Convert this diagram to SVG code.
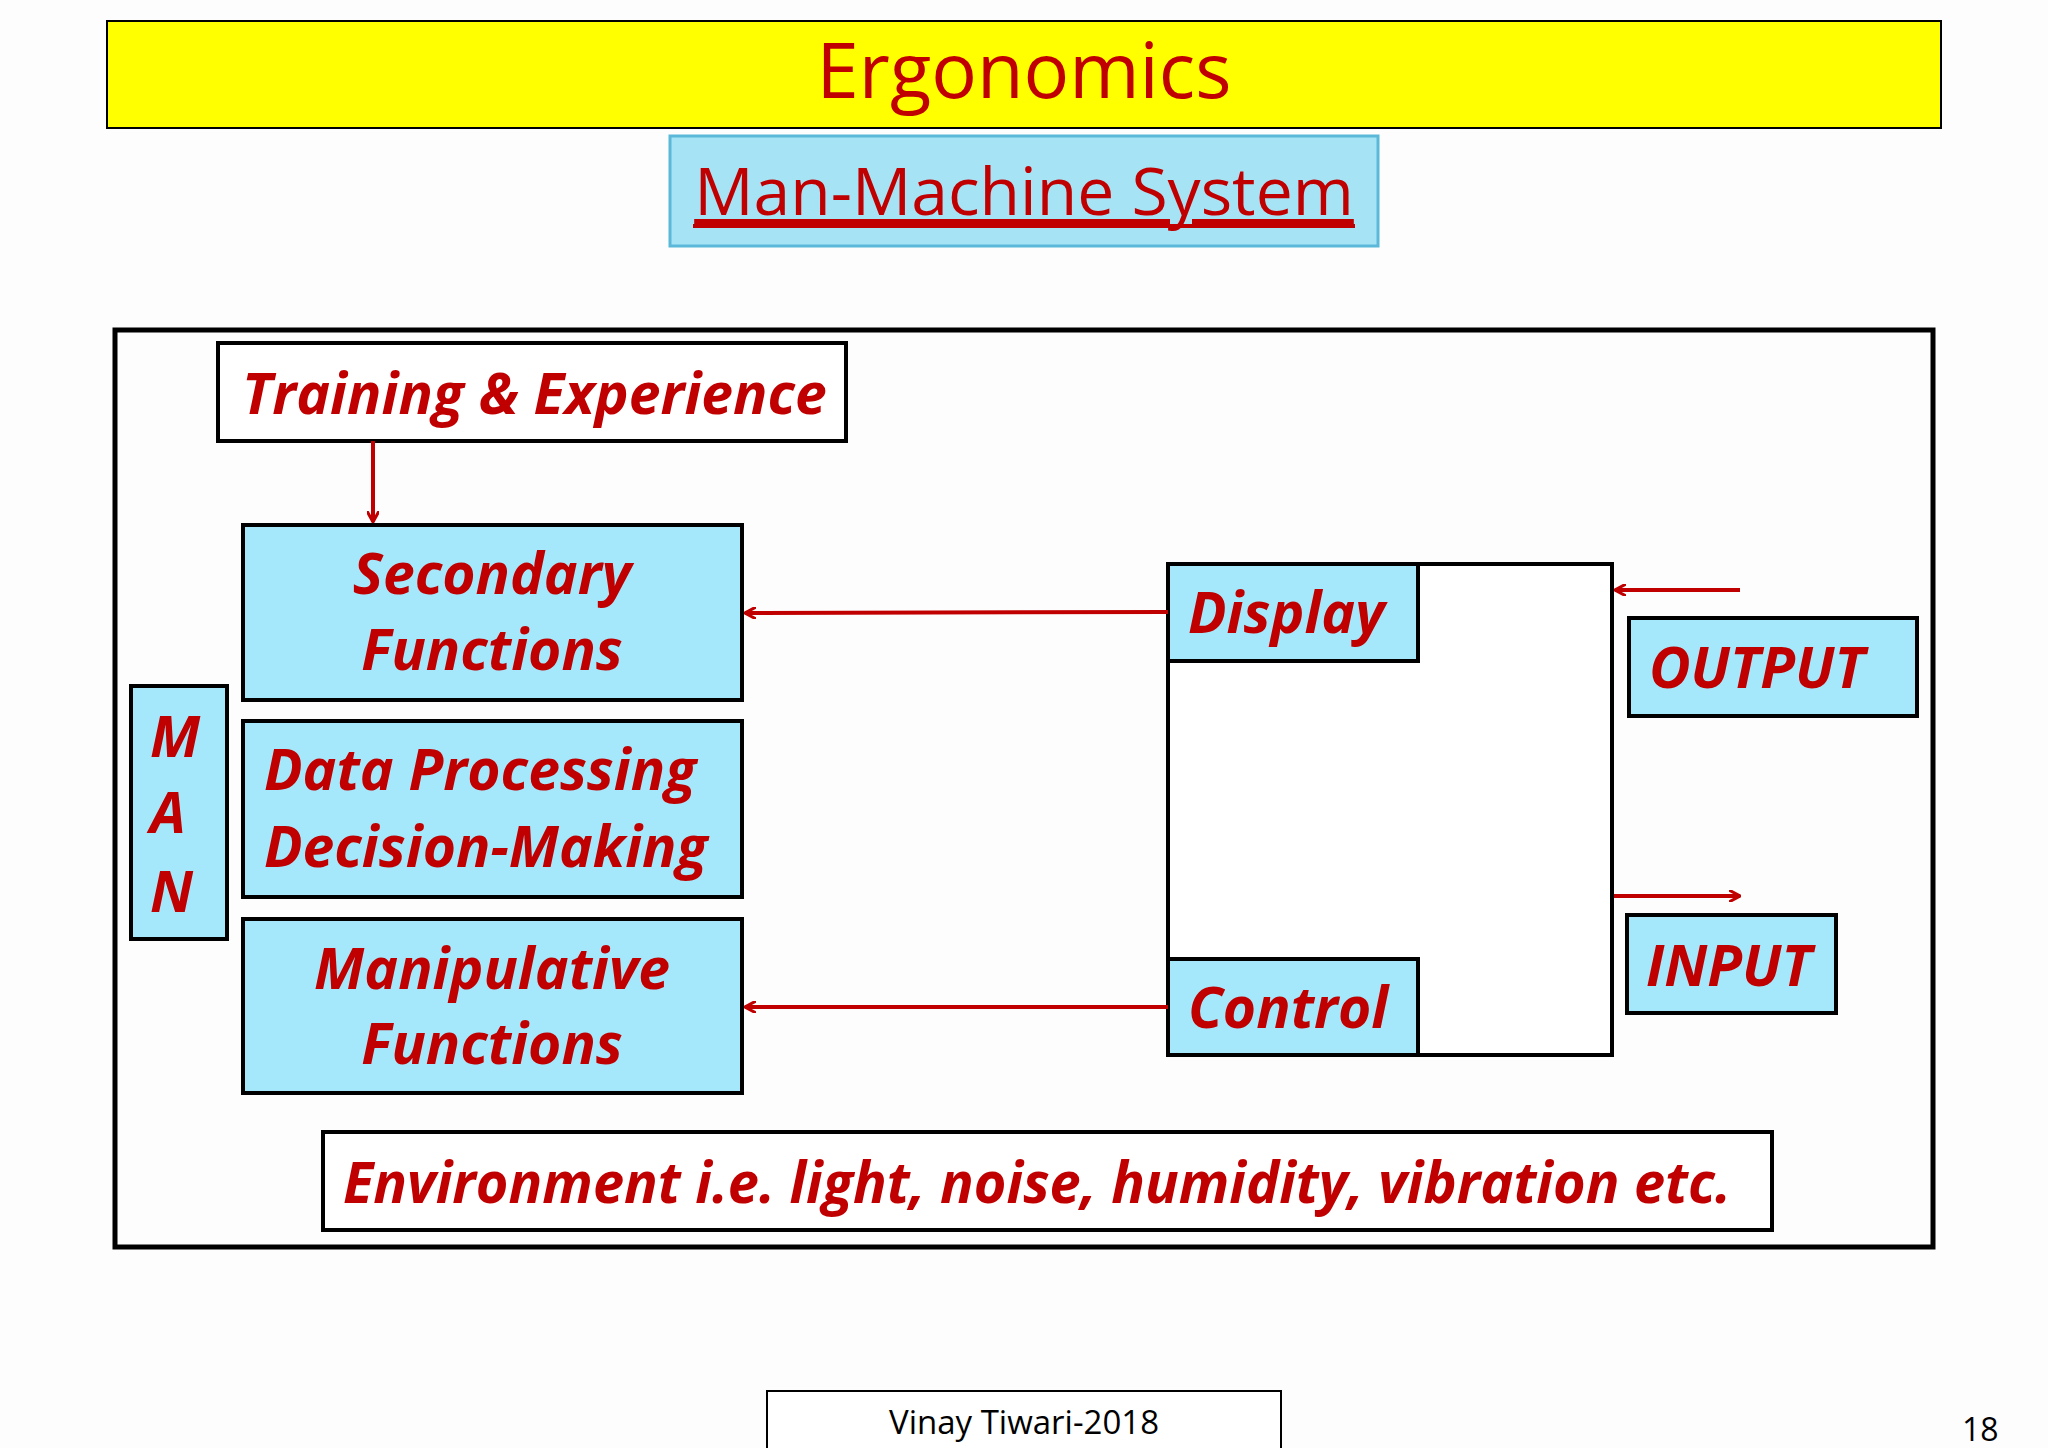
<svg xmlns="http://www.w3.org/2000/svg" width="2048" height="1448" viewBox="0 0 2048 1448">
<style>
.b{fill:#a6e8fb;stroke:#000;stroke-width:4}
.w{fill:#fff;stroke:#000;stroke-width:4}
.t{font-family:"Open Sans","Liberation Sans",sans-serif;font-weight:bold;font-style:italic;fill:#c00000;font-size:57px}
.c{text-anchor:middle}
.l{stroke:#c00000;stroke-width:4;fill:none;marker-end:url(#a)}
</style>
<defs><marker id="a" markerWidth="12" markerHeight="12" refX="11" refY="6" orient="auto" markerUnits="userSpaceOnUse" viewBox="0 0 12 12"><path d="M0,0 L11,6 L0,12" fill="none" stroke="#c00000" stroke-width="3"/></marker></defs>
<rect width="2048" height="1448" fill="#fdfdfd"/>
<g id="title"><rect x="107" y="21" width="1834" height="107" fill="#ffff00" stroke="#000" stroke-width="2"/><text x="1024" y="98" text-anchor="middle" font-family="Open Sans,Liberation Sans,sans-serif" font-size="76" fill="#c00000">Ergonomics</text></g>
<g id="subtitle"><rect x="670" y="136" width="708" height="110" fill="#a6e3f5" stroke="#5bb8d8" stroke-width="3"/><text x="1024" y="215" text-anchor="middle" font-family="Open Sans,Liberation Sans,sans-serif" font-size="66" fill="#c00000" text-decoration="underline">Man-Machine System</text><line x1="693" y1="226" x2="1355" y2="226" stroke="#c00000" stroke-width="4"/></g>
<rect x="115" y="330" width="1818" height="917" fill="none" stroke="#000" stroke-width="5"/>
<g id="training"><rect class="w" x="218" y="343" width="628" height="98"/><text class="t" x="242" y="414">Training &amp; Experience</text></g>
<g id="secondary"><rect class="b" x="243" y="525" width="499" height="175"/><text class="t c" x="492" y="594">Secondary</text><text class="t c" x="492" y="670">Functions</text></g>
<g id="data"><rect class="b" x="243" y="721" width="499" height="176"/><text class="t" x="264" y="790">Data Processing</text><text class="t" x="264" y="867">Decision-Making</text></g>
<g id="manip"><rect class="b" x="243" y="919" width="499" height="174"/><text class="t c" x="492" y="989">Manipulative</text><text class="t c" x="492" y="1064">Functions</text></g>
<g id="man"><rect class="b" x="131" y="686" width="96" height="253"/><text class="t" x="150" y="757">M</text><text class="t" x="150" y="833">A</text><text class="t" x="150" y="912">N</text></g>
<g id="machine"><rect class="w" x="1168" y="564" width="444" height="491"/></g>
<g id="display"><rect class="b" x="1168" y="564" width="250" height="97"/><text class="t" x="1188" y="633">Display</text></g>
<g id="control"><rect class="b" x="1168" y="959" width="250" height="96"/><text class="t" x="1188" y="1028">Control</text></g>
<g id="output"><rect class="b" x="1629" y="618" width="288" height="98"/><text class="t" x="1649" y="688">OUTPUT</text></g>
<g id="input"><rect class="b" x="1627" y="915" width="209" height="98"/><text class="t" x="1646" y="986">INPUT</text></g>
<g id="env"><rect class="w" x="323" y="1132" width="1449" height="98"/><text class="t" x="343" y="1203" textLength="1388" lengthAdjust="spacingAndGlyphs">Environment i.e. light, noise, humidity, vibration etc.</text></g>
<g id="connectors">
<line class="l" x1="373" y1="441" x2="373" y2="522"/>
<line class="l" x1="1168" y1="612" x2="745" y2="613"/>
<line class="l" x1="1168" y1="1007" x2="745" y2="1007"/>
<line class="l" x1="1740" y1="590" x2="1615" y2="590"/>
<line class="l" x1="1614" y1="896" x2="1740" y2="896"/>
</g>
<g id="footer"><rect x="767" y="1391" width="514" height="60" fill="#fff" stroke="#000" stroke-width="2"/><text x="1024" y="1434" text-anchor="middle" font-family="Open Sans,Liberation Sans,sans-serif" font-size="33" fill="#000">Vinay Tiwari-2018</text><text x="1962" y="1441" font-family="Open Sans,Liberation Sans,sans-serif" font-size="32" fill="#000">18</text></g>
</svg>
